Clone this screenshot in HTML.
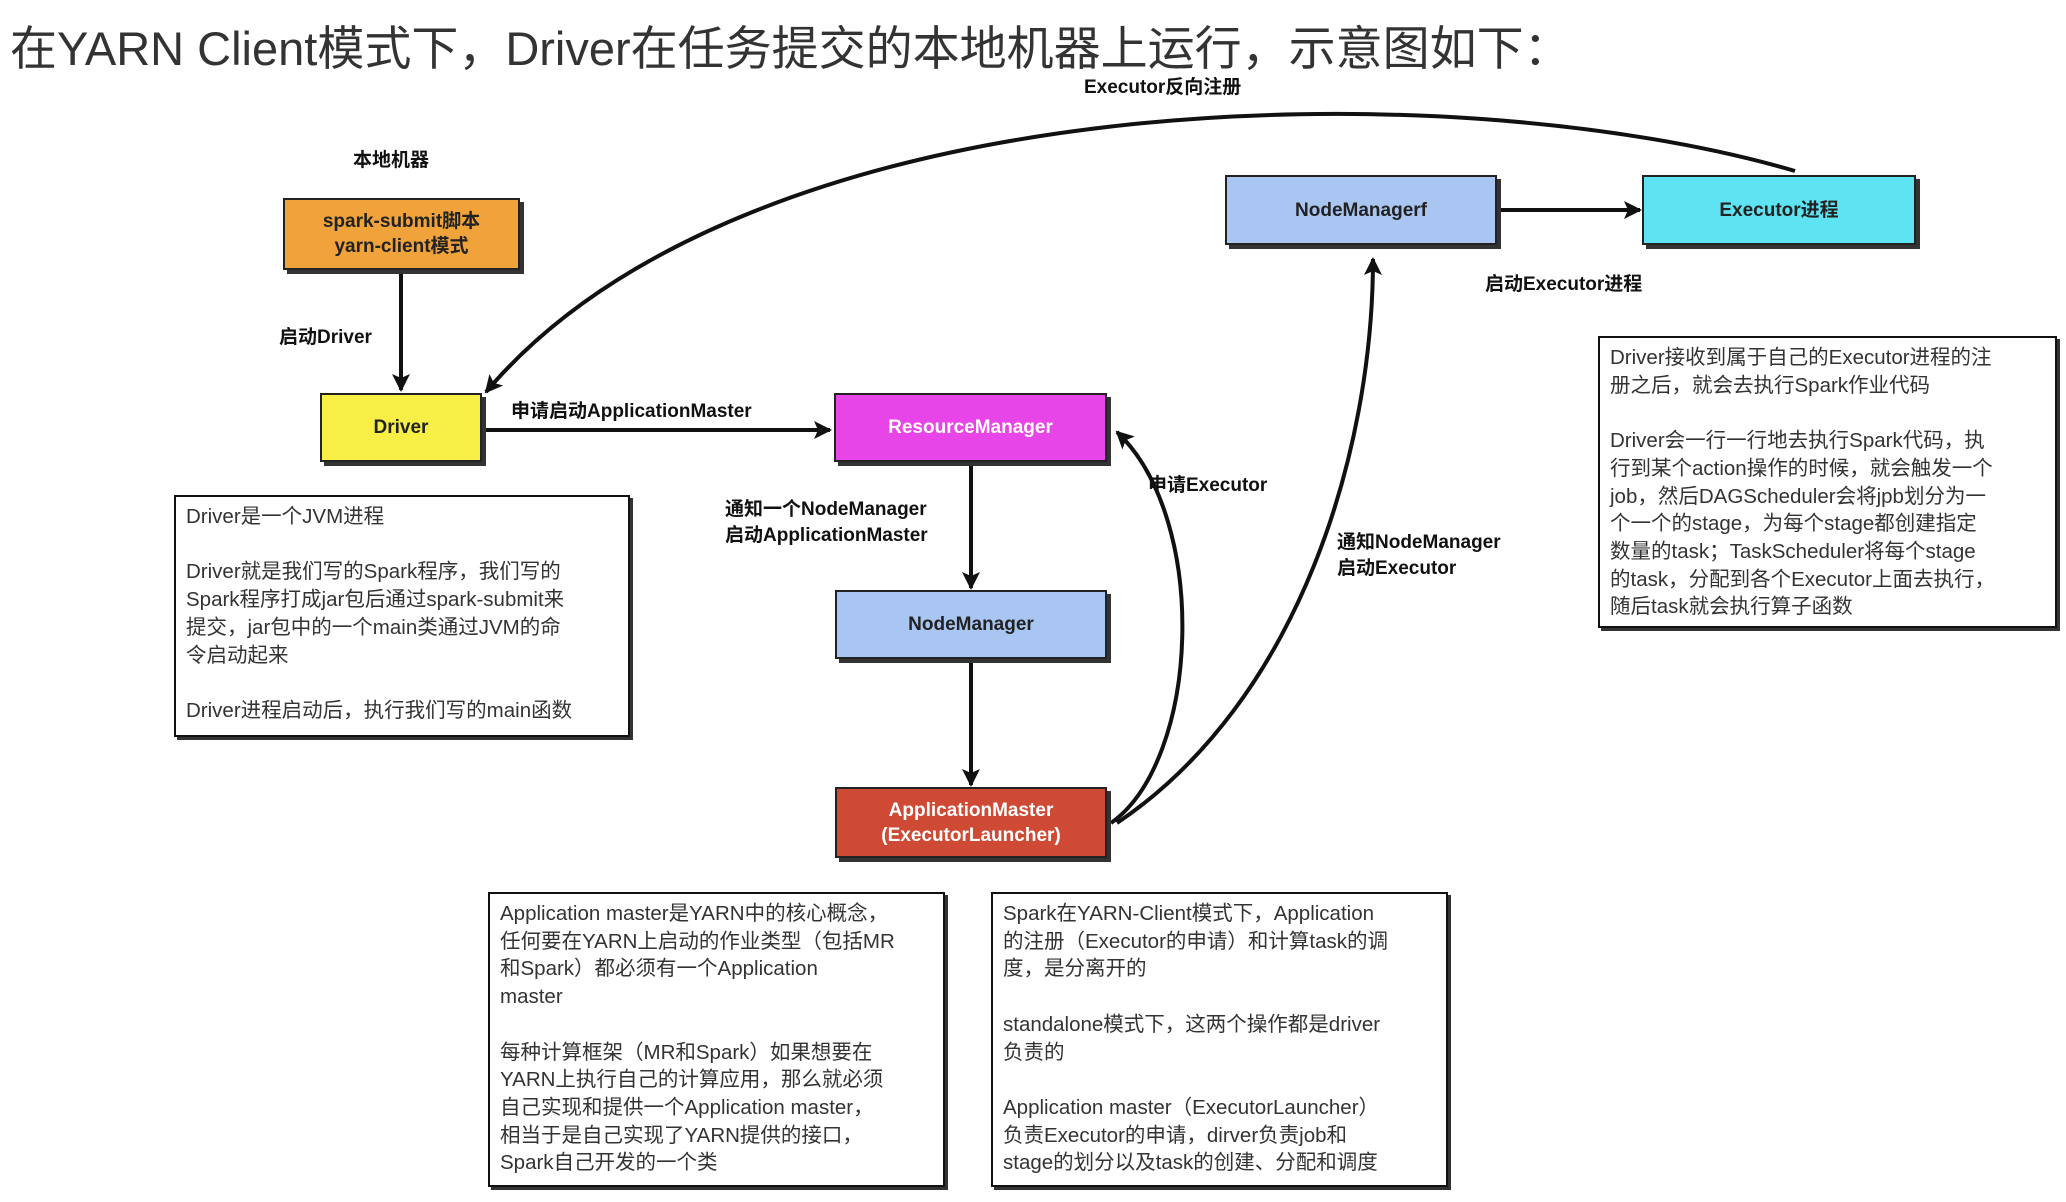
<!DOCTYPE html>
<html><head><meta charset="utf-8"><style>
body{margin:0;width:2066px;height:1202px;background:#fff;position:relative;overflow:hidden;font-family:"Liberation Sans","Noto Sans CJK SC",sans-serif;color:#222}
.a{position:absolute;white-space:nowrap}
.lbl{font-weight:bold;font-size:19px;color:#111}
.node{position:absolute;border:2.5px solid #222;box-shadow:4px 4px 0 #333;display:flex;align-items:center;justify-content:center;text-align:center;font-weight:bold;font-size:19px;line-height:25px;box-sizing:border-box}
.box{position:absolute;border:2.5px solid #111;box-shadow:3px 3px 0 #333;box-sizing:border-box;padding:6px 10px;font-size:20.5px;line-height:27.7px;color:#333;white-space:nowrap}
</style></head><body>
<div class="a" style="left:10px;top:10px;font-size:47px;color:#333">在YARN Client模式下，Driver在任务提交的本地机器上运行，示意图如下：</div>
<div class="a lbl" style="left:1084px;top:72px">Executor反向注册</div>
<div class="a lbl" style="left:353px;top:145px">本地机器</div>
<div class="a lbl" style="left:279px;top:322px">启动Driver</div>
<div class="a lbl" style="left:511px;top:396px">申请启动ApplicationMaster</div>
<div class="a lbl" style="left:725px;top:497px;line-height:26px">通知一个NodeManager<br>启动ApplicationMaster</div>
<div class="a lbl" style="left:1148px;top:470px">申请Executor</div>
<div class="a lbl" style="left:1337px;top:530px;line-height:26px">通知NodeManager<br>启动Executor</div>
<div class="a lbl" style="left:1485px;top:269px">启动Executor进程</div>

<svg width="2066" height="1202" style="position:absolute;left:0;top:0">
<defs><marker id="ah" markerWidth="10" markerHeight="10" refX="8" refY="5" orient="auto" markerUnits="userSpaceOnUse"><path d="M0,0 L10,5 L0,10 z" fill="#111"/></marker>
<marker id="ah2" markerWidth="18" markerHeight="18" refX="16" refY="9" orient="auto" markerUnits="userSpaceOnUse"><path d="M0,0 L18,9 L0,18 L4,9 z" fill="#111"/></marker></defs>
<g stroke="#111" stroke-width="4" fill="none">
<line x1="401" y1="270" x2="401" y2="390" marker-end="url(#ah2)"/>
<line x1="484" y1="430" x2="830" y2="430" marker-end="url(#ah2)"/>
<line x1="971" y1="462" x2="971" y2="588" marker-end="url(#ah2)"/>
<line x1="971" y1="659" x2="971" y2="785" marker-end="url(#ah2)"/>
<line x1="1499" y1="210" x2="1640" y2="210" marker-end="url(#ah2)"/>
<path d="M1111,823 C1200,760 1210,520 1117,432" marker-end="url(#ah2)"/>
<path d="M1117,823 C1300,700 1373,450 1373,259" marker-end="url(#ah2)"/>
<path d="M1795,171 C1450,70 750,80 486,392" marker-end="url(#ah2)"/>
</g></svg>

<div class="node" style="left:283px;top:198px;width:237px;height:72px;background:#f0a33a;color:#222">spark-submit脚本<br>yarn-client模式</div>
<div class="node" style="left:320px;top:393px;width:162px;height:69px;background:#f7ef45;color:#222">Driver</div>
<div class="node" style="left:834px;top:393px;width:273px;height:69px;background:#e845e8;color:#fff">ResourceManager</div>
<div class="node" style="left:835px;top:590px;width:272px;height:69px;background:#a9c6f2;color:#222">NodeManager</div>
<div class="node" style="left:835px;top:787px;width:272px;height:71px;background:#cf4a35;color:#fff">ApplicationMaster<br>(ExecutorLauncher)</div>
<div class="node" style="left:1225px;top:175px;width:272px;height:70px;background:#a9c6f2;color:#222">NodeManagerf</div>
<div class="node" style="left:1642px;top:175px;width:274px;height:70px;background:#5ee3f2;color:#222">Executor进程</div>

<div class="box" style="left:174px;top:495px;width:456px;height:242px">Driver是一个JVM进程<br><br>Driver就是我们写的Spark程序，我们写的<br>Spark程序打成jar包后通过spark-submit来<br>提交，jar包中的一个main类通过JVM的命<br>令启动起来<br><br>Driver进程启动后，执行我们写的main函数</div>
<div class="box" style="left:1598px;top:336px;width:459px;height:292px">Driver接收到属于自己的Executor进程的注<br>册之后，就会去执行Spark作业代码<br><br>Driver会一行一行地去执行Spark代码，执<br>行到某个action操作的时候，就会触发一个<br>job，然后DAGScheduler会将jpb划分为一<br>个一个的stage，为每个stage都创建指定<br>数量的task；TaskScheduler将每个stage<br>的task，分配到各个Executor上面去执行，<br>随后task就会执行算子函数</div>
<div class="box" style="left:488px;top:892px;width:457px;height:295px">Application master是YARN中的核心概念，<br>任何要在YARN上启动的作业类型（包括MR<br>和Spark）都必须有一个Application<br>master<br><br>每种计算框架（MR和Spark）如果想要在<br>YARN上执行自己的计算应用，那么就必须<br>自己实现和提供一个Application master，<br>相当于是自己实现了YARN提供的接口，<br>Spark自己开发的一个类</div>
<div class="box" style="left:991px;top:892px;width:457px;height:295px">Spark在YARN-Client模式下，Application<br>的注册（Executor的申请）和计算task的调<br>度，是分离开的<br><br>standalone模式下，这两个操作都是driver<br>负责的<br><br>Application master（ExecutorLauncher）<br>负责Executor的申请，dirver负责job和<br>stage的划分以及task的创建、分配和调度</div>
</body></html>
